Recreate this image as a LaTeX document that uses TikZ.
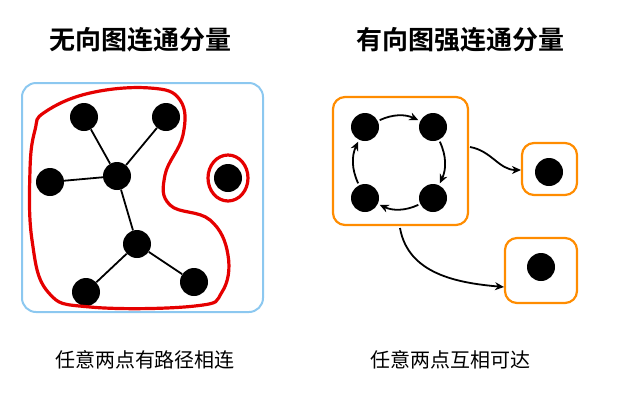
\documentclass[tikz,border=0pt]{standalone}
\usepackage{fontspec}
\setmainfont{Noto Sans CJK SC}[BoldFont={Noto Sans CJK SC Bold}]
\usetikzlibrary{arrows.meta}
\tikzset{
 dot/.style={circle,fill=black,minimum size=28pt,inner sep=0pt},
 edge/.style={line width=1.8pt},
 arr/.style={line width=1.8pt,-{Stealth[length=9pt,width=8pt]}},
 ttl/.style={font=\fontsize{26}{30}\selectfont\bfseries},
 captxt/.style={font=\fontsize{20}{24}\selectfont},
 obox/.style={draw=orange!90!yellow,line width=2.2pt,rounded corners=12pt},
}
\begin{document}
\begin{tikzpicture}[x=1pt,y=-1pt]
\useasboundingbox (0,0) rectangle (627,408);
\node[ttl] (t1) at (140,40) {无向图连通分量};
\node[ttl] (t2) at (460,40) {有向图强连通分量};
\draw[draw={rgb,255:red,140;green,200;blue,240},line width=2pt,rounded corners=14pt] (22,83) rectangle (263,312);
\node[dot] (A) at (84,117) {};
\node[dot] (B) at (166,117) {};
\node[dot] (C) at (117,176) {};
\node[dot] (D) at (50,182) {};
\node[dot] (E) at (137,244) {};
\node[dot] (F) at (86,292) {};
\node[dot] (G) at (194,282) {};
\node[dot] (H) at (228,178) {};
\foreach \a/\b in {C/A,C/B,C/D,C/E,E/F,E/G} \draw[edge] (\a) -- (\b);
\draw[red!90!black,line width=3.2pt] plot[smooth cycle,tension=0.7] coordinates{(45,112) (90,93) (150,88) (180,100) (183,135) (165,175) (170,205) (210,220) (228,255) (222,292) (195,306) (90,307) (48,292) (32,240) (30,170) (35,130)};
\draw[red!90!black,line width=3.2pt] (228,178) ellipse (20pt and 23pt);
\draw[obox] (333,97) rectangle (468,225);
\draw[obox] (522,143) rectangle (577,195);
\draw[obox] (505,238) rectangle (577,303);
\node[dot] (P) at (365,127) {};
\node[dot] (Q) at (433,127) {};
\node[dot] (R) at (433,198) {};
\node[dot] (S) at (365,198) {};
\node[dot] (U) at (549,172) {};
\node[dot] (V) at (541,267) {};
\draw[arr,shorten <=2pt,shorten >=2pt] (P) to[bend left=25] (Q);
\draw[arr,shorten <=2pt,shorten >=2pt] (Q) to[bend left=25] (R);
\draw[arr,shorten <=2pt,shorten >=2pt] (R) to[bend left=25] (S);
\draw[arr,shorten <=2pt,shorten >=2pt] (S) to[bend left=25] (P);
\coordinate (o1) at (470,147);
\coordinate (i1) at (521,170);
\coordinate (o2) at (400,228);
\coordinate (i2) at (504,287);
\draw[arr] (o1) to[out=-10,in=180] (i1);
\draw[arr] (o2) to[out=-80,in=175] (i2);
\node[captxt] (c1) at (145,360) {任意两点有路径相连};
\node[captxt] (c2) at (450,360) {任意两点互相可达};
\end{tikzpicture}
\end{document}
